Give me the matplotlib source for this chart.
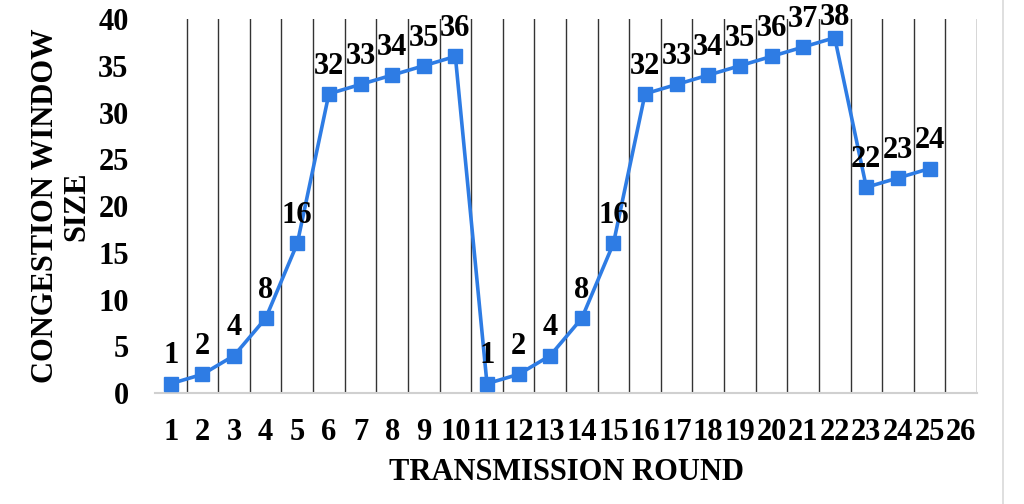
import matplotlib
matplotlib.use('Agg')
import matplotlib.pyplot as plt
from matplotlib.lines import Line2D

# data
rounds = list(range(1, 27))
cwnd_rounds = list(range(1, 26))
cwnd = [1, 2, 4, 8, 16, 32, 33, 34, 35, 36,
        1, 2, 4, 8, 16, 32, 33, 34, 35, 36, 37, 38,
        22, 23, 24]
y_ticks = [0, 5, 10, 15, 20, 25, 30, 35, 40]

plt.rcParams['font.family'] = ['Liberation Serif', 'DejaVu Serif']
plt.rcParams['font.weight'] = 'bold'

blue = '#2E7CE4'

fig = plt.figure(figsize=(10.24, 5.04), dpi=100, facecolor='white')
ax = fig.add_axes([0.1514, 0.2202, 0.8027, 0.7421])

# vertical gridlines at category boundaries
for b in range(1, 27):
    ax.axvline(b + 0.5, color='#333333', linewidth=1.0, zorder=1)

ax.plot(cwnd_rounds, cwnd, color=blue, linewidth=2.6, marker='s',
        markersize=10.5, markerfacecolor=blue, markeredgecolor=blue, zorder=3)

ymax = max(cwnd)
for x, v in zip(cwnd_rounds, cwnd):
    # the top label gets squeezed down so it stays inside the chart
    off = 4 if v == ymax else 9.5
    ax.annotate(str(v), (x, v), xytext=(0, off), textcoords='offset points',
                ha='center', va='bottom', fontsize=22, fontweight='bold',
                color='black', zorder=4)

ax.set_xlim(0.5, 26.5)
ax.set_ylim(0, 40)
ax.set_xticks(rounds)
ax.set_xticklabels([str(r) for r in rounds])
ax.set_yticks(y_ticks)
ax.tick_params(axis='both', length=0, labelsize=22, colors='black')
ax.tick_params(axis='x', pad=18)
ax.tick_params(axis='y', pad=19)

for s in ['left', 'right', 'top']:
    ax.spines[s].set_visible(False)
ax.spines['bottom'].set_color('#d0d0d0')
ax.spines['bottom'].set_linewidth(1.5)

ax.set_xlabel('TRANSMISSION ROUND', fontsize=22, fontweight='bold', labelpad=8)
ax.set_ylabel('CONGESTION WINDOW\nSIZE', fontsize=22, fontweight='bold',
              linespacing=1.08, labelpad=5)

# chart border on the right
fig.add_artist(Line2D([1003 / 1024, 1003 / 1024], [0, 1], color='#d9d9d9',
                      linewidth=1.2, transform=fig.transFigure))

fig.savefig('out.png', dpi=100, facecolor='white')
